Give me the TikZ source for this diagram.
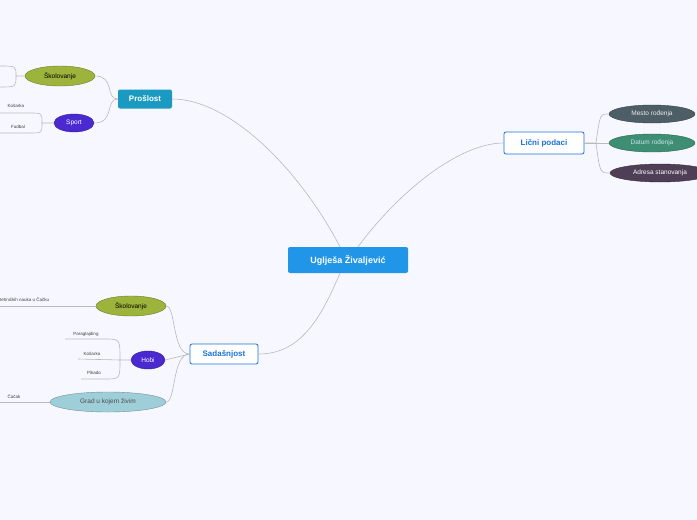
\documentclass[tikz,border=0pt]{standalone}
\usepackage{fontspec}
\setmainfont{Liberation Sans}
\usetikzlibrary{shapes.geometric}
\definecolor{olv}{HTML}{9CB43C}
\definecolor{purp}{HTML}{4A2AD0}
\definecolor{slate}{HTML}{4E5E66}
\definecolor{grn}{HTML}{3E8E74}
\definecolor{plum}{HTML}{4E3E56}
\definecolor{lblue}{HTML}{9ECFD8}
\definecolor{mainb}{HTML}{2196E8}
\definecolor{pb}{HTML}{1A9AC0}
\definecolor{wb}{HTML}{1A72D8}
\begin{document}
\begin{tikzpicture}[x=1pt,y=-1pt,
 conn/.style={draw=gray!55,line width=0.6pt},
 mainbox/.style={rectangle,rounded corners=2pt,fill=#1,text=white,font=\bfseries\fontsize{8}{9}\selectfont,inner sep=0pt},
 wbox/.style={rectangle,rounded corners=2pt,fill=white,draw=wb,line width=0.8pt,text=wb,font=\bfseries\fontsize{8}{9}\selectfont,inner sep=0pt},
 oval/.style={ellipse,fill=#1,draw=#1!70!black,line width=0.4pt,inner sep=0pt,font=\fontsize{6.5}{8}\selectfont},
 lbl/.style={font=\fontsize{4.5}{5}\selectfont,text=black!75,inner sep=0pt}]
\fill[blue!3] (0,0) rectangle (697,520);
\useasboundingbox (0,0) rectangle (697,520);
\node[mainbox=mainb,minimum width=120,minimum height=26,font=\bfseries\fontsize{9}{10}\selectfont] (c) at (348,260) {Uglješa Živaljević};
\node[mainbox=pb,minimum width=54,minimum height=19] (p) at (145,99) {Prošlost};
\node[wbox,minimum width=80,minimum height=22] (l) at (544,143) {Lični podaci};
\node[wbox,minimum width=68,minimum height=20] (s) at (224,354) {Sadašnjost};
\draw[conn] (c.north) ++(-8,0) coordinate (c1) .. controls (300,170) and (230,99) .. (p.east);
\draw[conn] (c.north) ++(10,0) coordinate (c2) .. controls (400,190) and (460,143) .. (l.west);
\draw[conn] (c.south) ++(-8,0) coordinate (c3) .. controls (320,320) and (300,354) .. (s.east);
% Proslost children
\node[oval=olv,minimum width=70,minimum height=20] (sk1) at (60,76) {Školovanje};
\node[oval=purp,minimum width=40,minimum height=18,text=white] (sp) at (74,123) {Sport};
\draw[conn] (p.west) .. controls (105,99) and (115,76) .. (sk1.east);
\draw[conn] (p.west) .. controls (105,99) and (115,123) .. (sp.east);
\coordinate (k1a) at (0,66); \coordinate (k1b) at (0,87);
\draw[conn] (sk1.west) -- (16,76) .. controls (16,66) .. (k1a);
\draw[conn] (16,76) .. controls (16,87) .. (k1b);
\node[lbl] (ko1) at (16,106) {Košarka};
\node[lbl] (fu) at (18,127) {Fudbal};
\coordinate (ko1e) at (0,113); \coordinate (fue) at (0,133);
\draw[conn] (sp.west) -- (42,123) .. controls (42,113) .. (30,113) -- (ko1e);
\draw[conn] (42,123) .. controls (42,133) .. (30,133) -- (fue);
% Lični children
\node[oval=slate,minimum width=86,minimum height=18,text=white!85!gray] (m) at (652,114) {Mesto rođenja};
\node[oval=grn,minimum width=86,minimum height=18,text=white!80!teal] (d) at (652,143) {Datum rođenja};
\node[oval=plum,minimum width=100,minimum height=18,text=white] (a) at (660,173) {Adresa stanovanja};
\draw[conn] (l.east) -- (596,143) .. controls (600,114) .. (m.west);
\draw[conn] (l.east) -- (d.west);
\draw[conn] (596,143) .. controls (600,173) .. (a.west);
% Sadasnjost children
\node[oval=olv,minimum width=70,minimum height=20] (sk2) at (131,306) {Školovanje};
\node[oval=purp,minimum width=34,minimum height=18,text=white] (h) at (148,360) {Hobi};
\node[oval=lblue,minimum width=116,minimum height=20,text=black!70] (g) at (108,402) {Grad u kojem živim};
\draw[conn] (s.west) .. controls (172,354) and (176,306) .. (sk2.east);
\draw[conn] (s.west) -- (h.east);
\draw[conn] (s.west) .. controls (172,354) and (176,402) .. (g.east);
\node[lbl,anchor=west] (t) at (0,300) {tehničkih nauka u Čačku};
\coordinate (te) at (0,306);
\draw[conn] (sk2.west) -- (te);
\node[lbl] (pa) at (86,334) {Paraglajding};
\node[lbl] (ko2) at (92,354) {Košarka};
\node[lbl] (pi) at (94,373) {Pikado};
\coordinate (pae) at (65,339); \coordinate (koe) at (78,359); \coordinate (pie) at (81,379);
\draw[conn] (h.west) -- (120,360) .. controls (120,339) .. (105,339) -- (pae);
\draw[conn] (120,360) -- (koe);
\draw[conn] (120,360) .. controls (120,379) .. (105,379) -- (pie);
\node[lbl] (ca) at (14,397) {Čačak};
\coordinate (cae) at (0,402);
\draw[conn] (g.west) -- (cae);
\end{tikzpicture}
\end{document}
